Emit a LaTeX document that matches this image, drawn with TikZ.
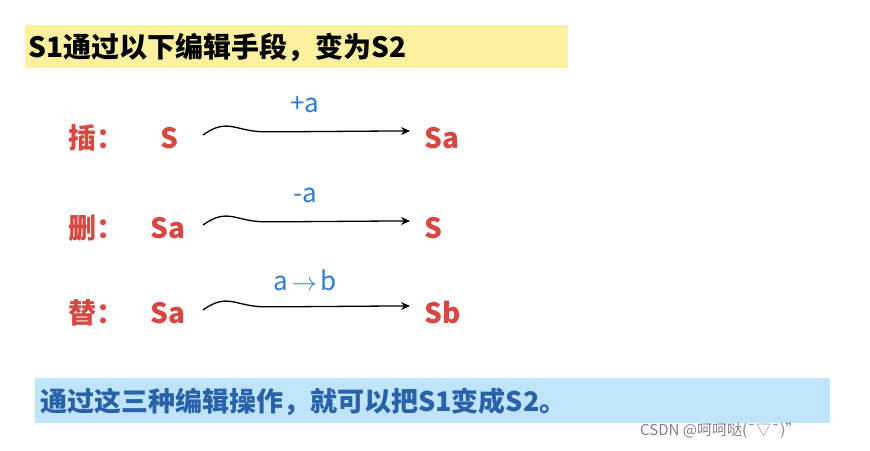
\documentclass[tikz,border=0pt]{standalone}
\usepackage{fontspec}
\setmainfont{Noto Sans CJK SC}
\usetikzlibrary{arrows.meta,calc}
\definecolor{myred}{RGB}{214,72,66}
\definecolor{myblue}{RGB}{52,122,212}
\definecolor{myyel}{RGB}{253,241,160}
\definecolor{mylb}{RGB}{190,229,251}
\tikzset{
 red/.style={text=myred,font=\fontsize{28}{28}\selectfont\bfseries,inner sep=0},
 blu/.style={text=myblue,font=\fontsize{26}{26}\selectfont,inner sep=0},
 wave/.style={-{Stealth[length=9pt,width=8pt]},line width=1.3pt},
}
\begin{document}
\begin{tikzpicture}[x=1pt,y=-1pt]
\useasboundingbox (0,0) rectangle (870,450);
\fill[myyel] (25,25) rectangle (568,68);
\node[inner sep=0,anchor=west,font=\fontsize{28}{28}\selectfont\bfseries] (title) at (28,47) {S1通过以下编辑手段，变为S2};
\foreach \y/\lab/\a/\b/\op [count=\i] in {138/插：/S/Sa/+a, 228/删：/Sa/S/-a, 313/替：/Sa/Sb/{a$\,\rightarrow\,$b}}{
 \node[red,anchor=west] (l\i) at (68,\y) {\lab};
 \node[red,anchor=west] (s\i) at ({\i==1?160:150},\y) {\a};
 \node[red,anchor=west] (t\i) at (424,\y) {\b};
 \coordinate (p\i) at (203,\y-3);
 \coordinate (q\i) at (410,\y-7);
 \draw[wave] (p\i) .. controls +(25,-18) and +(-30,0) .. ($(p\i)!0.3!(q\i)+(0,-2)$) .. controls +(40,0) and +(-40,0) .. (q\i);
 \node[blu] (o\i) at (305,\y-33) {\op};
}
\fill[mylb] (35,378) rectangle (830,423);
\node[inner sep=0,anchor=west,text=myblue!80!black,font=\fontsize{27}{27}\selectfont\bfseries] (foot) at (40,402) {通过这三种编辑操作，就可以把S1变成S2。};
\node[inner sep=0,anchor=west,text=gray,font=\fontsize{15}{15}\selectfont] (wm) at (640,431) {CSDN @呵呵哒(¯▽¯)"};
\end{tikzpicture}
\end{document}
